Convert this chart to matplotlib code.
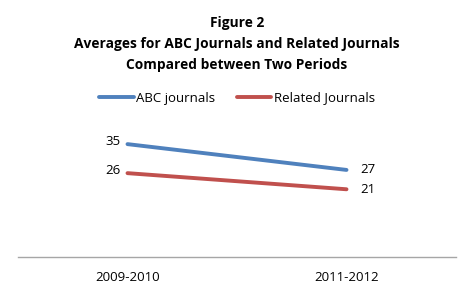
import matplotlib.pyplot as plt

periods = ["2009-2010", "2011-2012"]
abc_journals = [35, 27]
related_journals = [26, 21]

plt.rcParams['font.family'] = ['Open Sans', 'DejaVu Sans']

fig = plt.figure(figsize=(4.74, 2.96), dpi=100)
ax = fig.add_axes([18 / 474, 39 / 296, 438 / 474, 129 / 296])

x = range(len(periods))
ax.plot(x, abc_journals, color='#4F81BD', lw=2.8, solid_capstyle='round', label='ABC journals')
ax.plot(x, related_journals, color='#C0504D', lw=2.8, solid_capstyle='round', label='Related Journals')

# data labels: left point labels on the left, right point labels on the right
for series in (abc_journals, related_journals):
    ax.annotate(str(series[0]), (0, series[0]), xytext=(-5, 2), textcoords='offset points',
                ha='right', va='center', fontsize=9.5)
    ax.annotate(str(series[1]), (1, series[1]), xytext=(10, 0), textcoords='offset points',
                ha='left', va='center', fontsize=9.5)

ax.set_xlim(-0.5, 1.5)
ax.set_ylim(0, 40)
ax.set_xticks(list(x))
ax.set_xticklabels(periods, fontsize=9.5)
ax.tick_params(axis='x', length=0, pad=10)
ax.set_yticks([])
for side in ('left', 'right', 'top'):
    ax.spines[side].set_visible(False)
ax.spines['bottom'].set_color('#A6A6A6')
ax.spines['bottom'].set_linewidth(1)

fig.text(0.5, 1 - 23 / 296, "Figure 2", ha='center', va='center', fontsize=9.9, fontweight='bold')
fig.text(0.5, 1 - 44 / 296, "Averages for ABC Journals and Related Journals",
         ha='center', va='center', fontsize=9.9, fontweight='bold')
fig.text(0.5, 1 - 65 / 296, "Compared between Two Periods",
         ha='center', va='center', fontsize=9.9, fontweight='bold')

fig.legend(loc='center', bbox_to_anchor=(0.5, 1 - 98 / 296), ncol=2, frameon=False,
           fontsize=9.5, handlelength=2.6, handletextpad=0.2, columnspacing=1.6)

fig.savefig('out.png', dpi=100)
